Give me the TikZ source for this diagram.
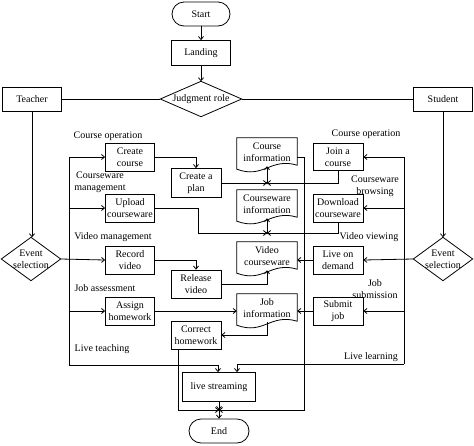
\documentclass[tikz,border=0pt]{standalone}
\usepackage{fontspec}
\setmainfont{Liberation Serif}
\usetikzlibrary{arrows.meta}
\newcommand\docout[1]{\draw[thin line] (#1.north west) -- ([yshift=-3pt]#1.south west) .. controls +(27pt,-10pt) and +(-27pt,8pt) .. ([yshift=1pt]#1.south east) -- (#1.north east) -- cycle;}
\newcommand\diaout[1]{\draw[thin line] (#1.north) -- (#1.east) -- (#1.south) -- (#1.west) -- cycle;}
\begin{document}
\begin{tikzpicture}[x=1pt,y=-1pt,
  thin line/.style={line width=0.8pt},
  every node/.style={font=\fontsize{10}{12}\selectfont},
  stepbox/.style={draw,thin line,rectangle,minimum width=49pt,minimum height=28pt,inner sep=1pt,align=center},
  term/.style={draw,thin line,rounded corners=12pt,minimum width=58pt,minimum height=24pt,inner sep=1pt},
  docnode/.style={rectangle,minimum width=60pt,minimum height=28pt,inner sep=1pt,align=center},
  dianode/.style={rectangle,inner sep=0pt,align=center},
  lbl/.style={inner sep=0pt,align=center},
  arr/.style={thin line,-{Straight Barb[length=3pt,width=5pt]}},
  ln/.style={thin line}]
\useasboundingbox (0,0) rectangle (474,445);
% top
\node[term] (start) at (201,14) {Start};
\node[stepbox,minimum width=59pt,minimum height=25pt] (land) at (201,53) {Landing};
\node[dianode,minimum width=81pt,minimum height=35pt] (jr) at (201,99) {Judgment role};
\diaout{jr}
\node[stepbox,minimum width=59pt,minimum height=24pt] (teacher) at (32,99) {Teacher};
\node[stepbox,minimum width=59pt,minimum height=24pt] (student) at (443,99) {Student};
\node[dianode,minimum width=59pt,minimum height=43pt] (esl) at (31,259) {Event\\selection};
\diaout{esl}
\node[dianode,minimum width=59pt,minimum height=43pt] (esr) at (443,259) {Event\\selection};
\diaout{esr}
% teacher column
\node[stepbox] (cc) at (130,157) {Create\\course};
\node[stepbox,minimum width=50pt,minimum height=29pt] (cp) at (196,183) {Create a\\plan};
\node[stepbox] (uc) at (130,208) {Upload\\courseware};
\node[stepbox] (rv) at (130,260) {Record\\video};
\node[stepbox,minimum width=50pt] (rlv) at (196,284) {Release\\video};
\node[stepbox] (ah) at (130,311) {Assign\\homework};
\node[stepbox,minimum width=50pt] (ch) at (196,335) {Correct\\homework};
\node[stepbox,minimum width=73pt,minimum height=29pt] (ls) at (219,387) {live streaming};
\node[term,minimum width=60pt] (end) at (219,431) {End};
% documents
\node[docnode] (ci) at (267,152) {Course\\information};
\docout{ci}
\node[docnode] (cwi) at (267,204) {Courseware\\information};
\docout{cwi}
\node[docnode] (vc) at (267,256) {Video\\courseware};
\docout{vc}
\node[docnode] (ji) at (267,308) {Job\\information};
\docout{ji}
% student column
\node[stepbox,minimum width=50pt,minimum height=27pt] (jc) at (338,157) {Join a\\course};
\node[stepbox,minimum width=50pt] (dc) at (338,208) {Download\\courseware};
\node[stepbox,minimum width=50pt] (lod) at (338,260) {Live on\\demand};
\node[stepbox,minimum width=50pt] (sj) at (338,311) {Submit\\job};
% labels
\node[lbl] (l1) at (108,136) {Course operation};
\node[lbl] (l2) at (100,182) {Courseware\\management};
\node[lbl] (l3) at (113,237) {Video management};
\node[lbl] (l4) at (105,288) {Job assessment};
\node[lbl] (l5) at (102,349) {Live teaching};
\node[lbl] (r1) at (366,134) {Course operation};
\node[lbl] (r2) at (375,186) {Courseware\\browsing};
\node[lbl] (r3) at (369,237) {Video viewing};
\node[lbl] (r4) at (375,289) {Job\\submission};
\node[lbl] (r5) at (371,357) {Live learning};
% coordinates
\coordinate (lbT) at (69,157);
\coordinate (lbB) at (69,365);
\coordinate (rbT) at (404,157);
\coordinate (rbB) at (404,364);
\coordinate (j1) at (267,183);
\coordinate (j2) at (267,233);
\coordinate (j3) at (219,410);
% connectors top
\draw[arr] (start.south) -- (land.north);
\draw[arr] (land.south) -- (jr.north);
\draw[ln] (jr.west) -- (teacher.east);
\draw[ln] (jr.east) -- (student.west);
\draw[arr] (teacher.south) -- (teacher.south |- esl.north);
\draw[arr] (student.south) -- (student.south |- esr.north);
\draw[arr] (esl.east) -- (rv.west);
\draw[arr] (esr.west) -- (lod.east);
% left bus
\draw[ln] (lbT) -- (lbB);
\draw[arr] (lbT) -- (cc.west);
\draw[arr] (lbT |- uc.west) -- (uc.west);
\draw[arr] (lbT |- ah.west) -- (ah.west);
\draw[arr] (lbB) -| ([xshift=-1pt]ls.north);
% right bus
\draw[ln] (rbT) -- (rbB);
\draw[arr] (rbT) -- (jc.east);
\draw[arr] (rbT |- dc.east) -- (dc.east);
\draw[arr] (rbT |- sj.east) -- (sj.east);
\draw[arr] (rbB) -| ([xshift=18pt]ls.north);
% middle
\draw[arr] (cc.east) -| (cp.north);
\draw[arr] (cp.east) -- (j1);
\draw[arr] (jc.south) |- (j1);
\draw[arr] (j1) -- (ci.south);
\draw[arr] (uc.east) -- ++(43pt,0) |- (j2);
\draw[arr] (dc.south) |- (j2);
\draw[arr] (j2) -- (cwi.south);
\draw[arr] (rv.east) -| (rlv.north);
\draw[arr] (rlv.east) -| (vc.south);
\draw[arr] (lod.west) -- (lod.west -| vc.east);
\draw[arr] (ah.east) -- (ah.east -| ji.west);
\draw[arr] (sj.west) -- (sj.west -| ji.east);
\draw[arr] (ji.south) |- (ch.east);
\draw[arr] ([yshift=-5pt]ci.east) -- ++(7pt,0) |- (j3);
\draw[arr] ([xshift=-18pt]ch.south) |- (j3);
\draw[arr] (ls.south) -- (j3);
\draw[arr] (j3) -- (end.north);
\fill (j1) circle (1.3pt);
\fill (j2) circle (1.3pt);
\fill (j3) circle (1.3pt);
\end{tikzpicture}
\end{document}
